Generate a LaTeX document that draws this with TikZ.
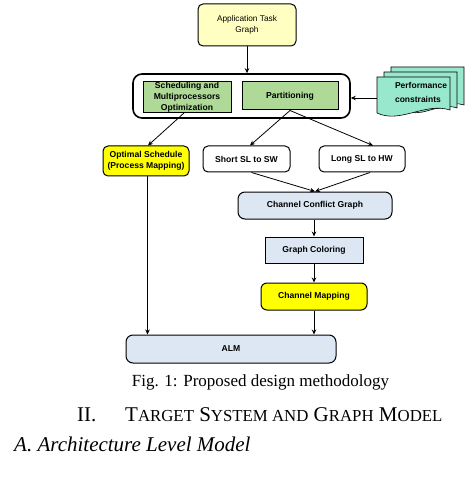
\documentclass[tikz,border=0pt]{standalone}
\usepackage{fontspec}
\setmainfont{Liberation Serif}
\setsansfont{Liberation Sans}
\usetikzlibrary{arrows.meta,calc}
\definecolor{lyellow}{HTML}{FFFFC2}
\definecolor{byellow}{HTML}{FFFF00}
\definecolor{lgreen}{HTML}{AED997}
\definecolor{lblue}{HTML}{DDE7F3}
\definecolor{teal2}{HTML}{98E8CE}
\tikzset{
  box/.style={draw=black, line width=1pt, inner sep=0pt, align=center,
    font=\sffamily\bfseries\fontsize{8.6}{10.8}\selectfont},
  rbox/.style={box, rounded corners=5pt},
  arr/.style={line width=0.8pt, -{Stealth[length=5pt,width=4.5pt]}},
  doc/.style={draw=black, line width=0.6pt, fill=teal2},
}
\begin{document}
\begin{tikzpicture}[x=1pt,y=-1pt]
\useasboundingbox (0,0) rectangle (474,478);
% nodes
\node[rbox, fill=lyellow, minimum width=98pt, minimum height=42pt,
  font=\sffamily\fontsize{8.3}{11.5}\selectfont] (app) at (247,25) {Application Task\\Graph};
\node[draw=black, line width=1.6pt, rounded corners=9pt, minimum width=217pt,
  minimum height=44pt, inner sep=0pt] (outer) at (241.5,96) {};
\node[box, fill=lgreen, minimum width=88pt, minimum height=31pt] (sched) at (187,97)
  {Scheduling and\\Multiprocessors\\Optimization};
\node[box, fill=lgreen, minimum width=96pt, minimum height=28pt] (part) at (290,96) {Partitioning};
% performance constraints (multi document)
\path[doc] (391,67) -- (464,67) -- (464,105) .. controls (450,100) and (440,112) .. (430,108) -- (391,108) -- cycle;
\path[doc] (384,72) -- (457,72) -- (457,108) .. controls (440,102) and (425,116) .. (410,112) -- (384,112) -- cycle;
\path[doc] (377,77) -- (450,77) -- (450,110) .. controls (425,102) and (400,124) .. (377,113) -- cycle;
\node[inner sep=0pt, align=left, font=\sffamily\bfseries\fontsize{8.5}{14}\selectfont] (perf) at (421,92.5)
  {Performance\\constraints};
\coordinate (perfl) at (377,98);
\node[rbox, fill=byellow, minimum width=86pt, minimum height=30pt] (opt) at (146,161)
  {Optimal Schedule\\(Process Mapping)};
\node[rbox, fill=white, minimum width=87pt, minimum height=26pt] (short) at (246.5,159) {Short SL to SW};
\node[rbox, fill=white, minimum width=86pt, minimum height=26pt] (long) at (362,159) {Long SL to HW};
\node[box, rounded corners=7pt, fill=lblue, minimum width=154pt, minimum height=27pt] (ccg) at (315,205.5)
  {Channel Conflict Graph};
\node[box, fill=lblue, minimum width=98pt, minimum height=26pt] (gc) at (314,250) {Graph Coloring};
\node[box, rounded corners=6pt, fill=byellow, minimum width=106pt, minimum height=27pt] (cm) at (314,296.5)
  {Channel Mapping};
\node[box, rounded corners=7pt, fill=lblue, minimum width=210pt, minimum height=28pt] (alm) at (231,349) {ALM};
% connectors
\coordinate (optb) at ($(opt.south)+(1.5,0)$);
\coordinate (almopt) at (optb |- alm.north);
\draw[arr] (app.south) -- (app.south |- outer.north);
\draw[arr] (perfl) -- (perfl -| outer.east);
\draw[arr] ($(sched.south)+(-3,0)$) -- ($(opt.north)+(2,0)$);
\draw[arr] (part.south) -- ($(short.north)+(3.5,0)$);
\draw[arr] (part.south) -- ($(long.north)+(11,0)$);
\draw[arr] ($(short.south)+(5,0)$) -- (ccg.north);
\draw[arr] ($(long.south)+(8,0)$) -- (ccg.north);
\draw[arr] (ccg.south -| gc.north) -- (gc.north);
\draw[arr] (gc.south) -- (cm.north);
\draw[arr] (cm.south) -- (cm.south |- alm.north);
\draw[arr] (optb) -- (almopt);
% text below
\node[anchor=base, inner sep=0pt, font=\fontsize{17}{20}\selectfont] (cap) at (260.5,386.5)
  {Fig. 1: Proposed design methodology};
\node[anchor=base west, inner sep=0pt, font=\fontsize{21}{24}\selectfont] (sec) at (77,421.5)
  {II.};
\node[anchor=base west, inner sep=0pt, font=\fontsize{21}{24}\selectfont] (sect) at (125,421.5)
  {T{\fontsize{16.8}{20}\selectfont ARGET} S{\fontsize{16.8}{20}\selectfont YSTEM AND} G{\fontsize{16.8}{20}\selectfont RAPH} M{\fontsize{16.8}{20}\selectfont ODEL}};
\node[anchor=base west, inner sep=0pt, font=\fontsize{21}{24}\selectfont\itshape] (sub) at (14,451.5)
  {A. Architecture Level Model};
\end{tikzpicture}
\end{document}
